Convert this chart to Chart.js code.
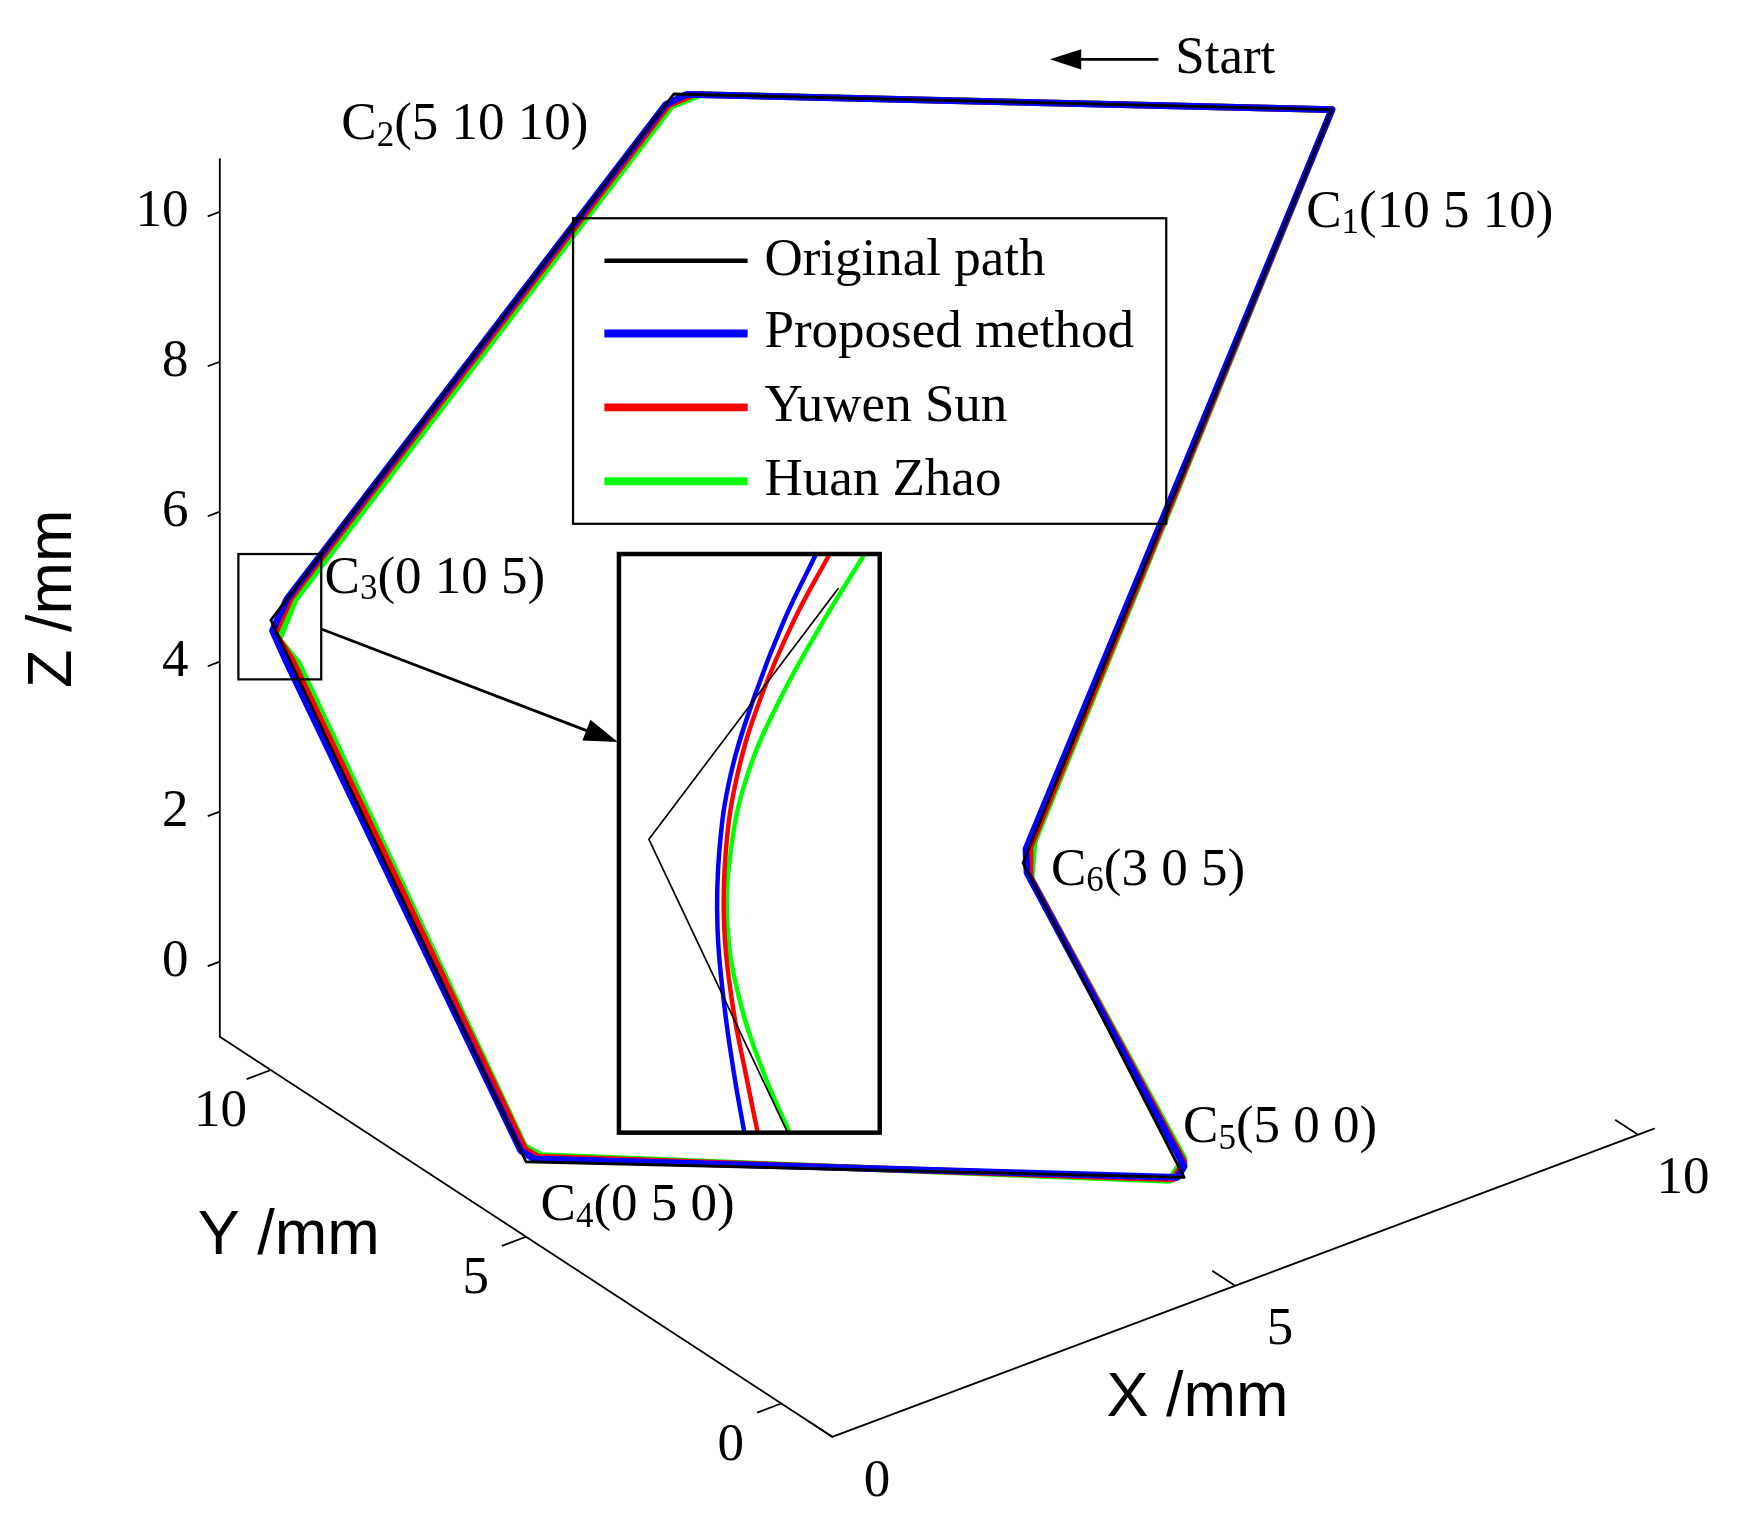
<!DOCTYPE html>
<html><head><meta charset="utf-8">
<script src="https://cdn.jsdelivr.net/npm/chart.js@4/dist/chart.umd.min.js"></script>
<style>html,body{margin:0;padding:0;background:#fff}canvas{display:block}</style>
</head><body>
<canvas id="c" width="1746" height="1519" style="width:1746px;height:1519px"></canvas>
<script>
// ---- data (3D points, mm) ----
const originalPath = [[10,5,10],[5,10,10],[0,10,5],[0,5,0],[5,0,0],[3,0,5],[10,5,10]];
const proposedPath = [[10,5,10],[5.1,9.9,10],[4.9,10,9.9],[0.2,10,5.2],[0.02,10,4.85],[0.05,9.8,4.55],[0,5.1,0.1],[0.1,5,0],[4.95,0.05,0],[5,0,0.15],[3.05,0,4.85],[3.1,0.1,5.1],[10,5,10]];
const sunPath      = [[10,5,10],[5.15,9.85,10],[4.93,10,9.88],[0.25,10,5.2],[0.05,10,4.8],[0.1,9.75,4.55],[0.05,5.1,0.1],[0.15,5,0],[4.9,0.05,0],[5,0,0.2],[3.08,0,4.8],[3.15,0.1,5.1],[10,5,10]];
const zhaoPath     = [[10,5,10],[5.2,9.8,10],[4.97,10,9.85],[0.3,10,5.15],[0.1,10,4.7],[0.15,9.7,4.5],[0.08,5.15,0.1],[0.2,5,0],[4.85,0.05,0],[5,0,0.25],[3.1,0,4.75],[3.2,0.1,5.15],[10,5,10]];
const xTicks = [0,5,10];
const yTicks = [0,5,10];
const zTicks = [0,2,4,6,8,10];
const seriesNames = ['Original path','Proposed method','Yuwen Sun','Huan Zhao'];
const seriesColors = ['#000000','#0000ff','#ff0000','#00ff00'];
const corners = [['1','(10 5 10)',[10,5,10]],['2','(5 10 10)',[5,10,10]],['3','(0 10 5)',[0,10,5]],['4','(0 5 0)',[0,5,0]],['5','(5 0 0)',[5,0,0]],['6','(3 0 5)',[3,0,5]]];
// inset (zoom of corner C3), local units 0..1 in box
const insetOriginal = [[0.84,0.06],[0.115,0.493],[0.647,1]];
const insetProposed = [[0.756,0],[0.635,0.113],[0.519,0.247],[0.429,0.38],[0.385,0.513],[0.378,0.647],[0.404,0.78],[0.442,0.9],[0.481,1]];
const insetSun      = [[0.808,0],[0.673,0.113],[0.545,0.247],[0.455,0.38],[0.41,0.513],[0.404,0.647],[0.436,0.78],[0.487,0.9],[0.532,1]];
const insetZhao     = [[0.942,0],[0.788,0.113],[0.622,0.247],[0.494,0.38],[0.429,0.513],[0.417,0.647],[0.468,0.78],[0.558,0.9],[0.654,1]];

// ---- projection (view transform) ----
function P(p){return {x:698+72*p[0]-45.6*p[1], y:1187-27*p[0]-29.8*p[1]-67*p[2]};}
const INSET={x0:553,y0:495,x1:786,y1:1012};
function I(q){return {x:INSET.x0+q[0]*(INSET.x1-INSET.x0), y:INSET.y0+q[1]*(INSET.y1-INSET.y0)};}
const S=1746/1560;
function ds(data,color,w,order,t){return {data:data,borderColor:color,backgroundColor:color,borderWidth:w*S,showLine:true,pointRadius:0,borderJoinStyle:'round',borderCapStyle:'round',order:order,fill:false,tension:t||0};}
const datasets=[
 ds([[0,-1,-1],[0,11,-1]].map(P),'#000',1.6,9),
 ds([[0,-1,-1],[10.2,-1,-1]].map(P),'#000',1.6,9),
 ds([[0,11,-1],[0,11,10.7]].map(P),'#000',1.6,9),
 ds(zhaoPath.map(P),'#00ff00',6,8),
 ds(sunPath.map(P),'#ff0000',6,7),
 ds(proposedPath.map(P),'#0000ff',6,6),
 ds(originalPath.map(P),'#000000',2.5,5),
 ds(insetZhao.map(I),'#00ff00',4,4,0.4),
 ds(insetSun.map(I),'#ff0000',4,3,0.4),
 ds(insetProposed.map(I),'#0000ff',4,2,0.4),
 ds(insetOriginal.map(I),'#000000',1.5,1),
];
const deco={id:'deco',afterDatasetsDraw(ch){
 const c=ch.ctx,xs=ch.scales.x,ys=ch.scales.y;
 const T=(p)=>({x:xs.getPixelForValue(p.x),y:ys.getPixelForValue(p.y)});
 const line=(a,b,w)=>{a=T(a);b=T(b);c.lineWidth=w*S;c.beginPath();c.moveTo(a.x,a.y);c.lineTo(b.x,b.y);c.stroke();};
 const txt=(s,p,font,al,bl)=>{p=T(p);c.font=font;c.textAlign=al||'center';c.textBaseline=bl||'middle';c.fillText(s,p.x,p.y);};
 c.save();c.strokeStyle='#000';c.fillStyle='#000';
 const serif=Math.round(47*S)+'px "Liberation Serif"';
 const sans=Math.round(56*S)+'px "Liberation Sans"';
 xTicks.forEach(v=>{line(P([v,-1,-1]),P([v,-0.55,-1]),1.6);});
 yTicks.forEach(v=>{line(P([0,v,-1]),P([-0.3,v,-1]),1.6);});
 zTicks.forEach(v=>{line(P([0,11,v]),P([-0.15,11,v]),1.6);});
 xTicks.forEach(v=>{const p=P([v,-1,-1]);txt(String(v),{x:p.x+40,y:p.y+40},serif);});
 yTicks.forEach(v=>{const p=P([0,v,-1]);txt(String(v),{x:p.x-45,y:p.y+38},serif);});
 zTicks.forEach(v=>{const p=P([0,11,v]);txt(String(v),{x:p.x-28,y:p.y},serif,'right');});
 txt('X /mm',{x:1070,y:1250},sans);txt('Y /mm',{x:258,y:1105},sans);
 {const p=T({x:48,y:535});c.save();c.translate(p.x,p.y);c.rotate(-Math.PI/2);c.font=sans;c.textAlign='center';c.textBaseline='middle';c.fillText('Z /mm',0,0);c.restore();}
 const off={1:[-23,92],2:[-297,28],3:[48,-37],4:[13,40],5:[-1,-44],6:[25,7]};
 const sub=Math.round(31*S)+'px "Liberation Serif"';
 corners.forEach(k=>{const p=P(k[2]),o=off[k[0]];const q=T({x:p.x+o[0],y:p.y+o[1]});
  c.textBaseline='middle';c.textAlign='left';c.font=serif;let x=q.x;c.fillText('C',x,q.y);x+=c.measureText('C').width;
  c.font=sub;c.fillText(k[0],x,q.y+10*S);x+=c.measureText(k[0]).width;c.font=serif;c.fillText(k[1],x,q.y);});
 line({x:1035,y:53},{x:950,y:53},2.5);
 {const a=T({x:938,y:53});c.beginPath();c.moveTo(a.x,a.y);c.lineTo(a.x+28*S,a.y-9*S);c.lineTo(a.x+28*S,a.y+9*S);c.closePath();c.fill();}
 txt('Start',{x:1050,y:53},serif,'left');
 {const a=T({x:512,y:195}),b=T({x:1042,y:468});c.lineWidth=2*S;c.strokeRect(a.x,a.y,b.x-a.x,b.y-a.y);
  const yy=[233,298,364,430];
  seriesNames.forEach((n,i)=>{c.strokeStyle=seriesColors[i];line({x:540,y:yy[i]},{x:668,y:yy[i]},i?7:4);c.strokeStyle='#000';txt(n,{x:683,y:yy[i]},serif,'left');});}
 {const a=T({x:213,y:495}),b=T({x:287,y:607});c.lineWidth=2*S;c.strokeRect(a.x,a.y,b.x-a.x,b.y-a.y);}
 line({x:287,y:562},{x:530,y:655},2.5);
 {const a=T({x:552,y:663}),b=T({x:287,y:562});const ang=Math.atan2(a.y-b.y,a.x-b.x);c.beginPath();c.moveTo(a.x,a.y);
  c.lineTo(a.x-30*S*Math.cos(ang)+10*S*Math.sin(ang),a.y-30*S*Math.sin(ang)-10*S*Math.cos(ang));
  c.lineTo(a.x-30*S*Math.cos(ang)-10*S*Math.sin(ang),a.y-30*S*Math.sin(ang)+10*S*Math.cos(ang));c.closePath();c.fill();}
 {const a=T({x:INSET.x0,y:INSET.y0}),b=T({x:INSET.x1,y:INSET.y1});c.lineWidth=4*S;c.strokeRect(a.x,a.y,b.x-a.x,b.y-a.y);}
 c.restore();
}};
new Chart(document.getElementById('c'),{type:'scatter',data:{datasets:datasets},
 options:{responsive:false,animation:false,devicePixelRatio:1,layout:{padding:0},
  plugins:{legend:{display:false},tooltip:{enabled:false}},
  scales:{x:{type:'linear',min:0,max:1560,display:false},y:{type:'linear',min:0,max:1519/S,reverse:true,display:false}}},
 plugins:[deco]});
</script></body></html>
